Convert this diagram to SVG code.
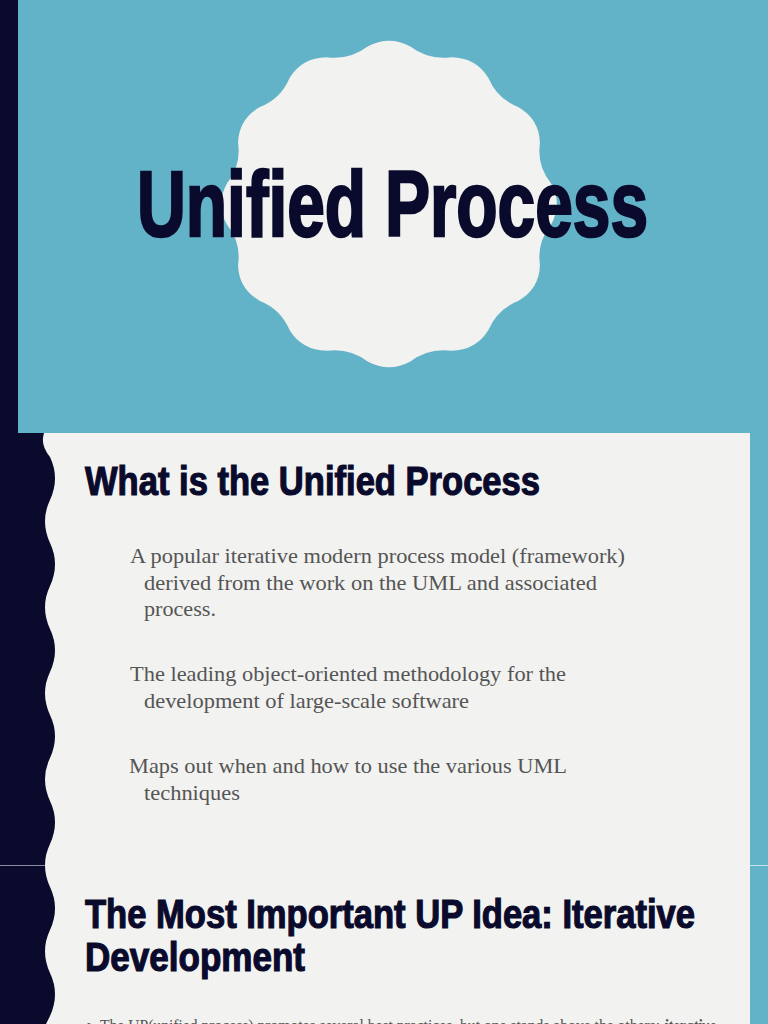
<svg xmlns="http://www.w3.org/2000/svg" width="768" height="1024" viewBox="0 0 768 1024">
<style>
.h{font-family:"Liberation Sans","DejaVu Sans",sans-serif;font-weight:bold;fill:#0a0a2c;stroke:#0a0a2c;stroke-width:1.2}
.b{font-family:"Liberation Serif","Times New Roman",serif;font-size:22px;fill:#555}
</style>
<rect x="0" y="0" width="768" height="433" fill="#63b3c8"/>
<rect x="0" y="0" width="18" height="433" fill="#0a0a2c"/>
<g id="badge" transform="translate(389,204) scale(1.1,1.07)">
<path fill="#f2f2f0" d="M147.2,-19.4 Q158,0 147.2,19.4 Q134.3,36 137.2,56.8 Q136.8,79 117.8,90.4 Q98.3,98.3 90.4,117.8 Q79,136.8 56.8,137.2 Q36,134.3 19.4,147.2 Q0,158 -19.4,147.2 Q-36,134.3 -56.8,137.2 Q-79,136.8 -90.4,117.8 Q-98.3,98.3 -117.8,90.4 Q-136.8,79 -137.2,56.8 Q-134.3,36 -147.2,19.4 Q-158,0 -147.2,-19.4 Q-134.3,-36 -137.2,-56.8 Q-136.8,-79 -117.8,-90.4 Q-98.3,-98.3 -90.4,-117.8 Q-79,-136.8 -56.8,-137.2 Q-36,-134.3 -19.4,-147.2 Q0,-158 19.4,-147.2 Q36,-134.3 56.8,-137.2 Q79,-136.8 90.4,-117.8 Q98.3,-98.3 117.8,-90.4 Q136.8,-79 137.2,-56.8 Q134.3,-36 147.2,-19.4 Z"/>
</g>
<text class="h" x="137" y="236" font-size="92" style="stroke-width:2.5" textLength="511" lengthAdjust="spacingAndGlyphs">Unified Process</text>
<rect x="0" y="433" width="768" height="591" fill="#f2f2f0"/>
<rect x="750" y="433" width="18" height="591" fill="#63b3c8"/>
<path fill="#0a0a2c" d="M0,433 H44 Q40,445 50,457 Q60,478 50,500 Q40,521 50,543 Q60,564 50,586 Q40,607 50,629 Q60,650 50,672 Q40,693 50,715 Q60,736 50,758 Q40,779 50,801 Q60,822 50,844 Q40,865 50,887 Q60,908 50,930 Q40,951 50,973 Q60,994 50,1016 Q47,1022 46,1024 H0 Z"/>
<line x1="0" y1="865.5" x2="45" y2="865.5" stroke="#8a8aa0" stroke-width="1"/>
<line x1="750" y1="865.5" x2="768" y2="865.5" stroke="#c8e2ea" stroke-width="1"/>
<text class="h" x="85" y="495" font-size="40" textLength="455" lengthAdjust="spacingAndGlyphs">What is the Unified Process</text>
<text class="b" x="130" y="563" textLength="495" lengthAdjust="spacingAndGlyphs">A popular iterative modern process model (framework)</text>
<text class="b" x="144" y="590" textLength="453" lengthAdjust="spacingAndGlyphs">derived from the work on the UML and associated</text>
<text class="b" x="144" y="616" textLength="72" lengthAdjust="spacingAndGlyphs">process.</text>
<text class="b" x="130" y="681" textLength="436" lengthAdjust="spacingAndGlyphs">The leading object-oriented methodology for the</text>
<text class="b" x="144" y="708" textLength="325" lengthAdjust="spacingAndGlyphs">development of large-scale software</text>
<text class="b" x="129" y="773" textLength="438" lengthAdjust="spacingAndGlyphs">Maps out when and how to use the various UML</text>
<text class="b" x="144" y="800" textLength="96" lengthAdjust="spacingAndGlyphs">techniques</text>
<text class="h" x="85" y="928" font-size="40" textLength="610" lengthAdjust="spacingAndGlyphs">The Most Important UP Idea: Iterative</text>
<text class="h" x="85" y="971" font-size="40" textLength="220" lengthAdjust="spacingAndGlyphs">Development</text>
<text class="b" x="86" y="1031" style="font-size:16px">•</text>
<text class="b" x="100" y="1031" style="font-size:16px" textLength="616" lengthAdjust="spacingAndGlyphs">The UP(unified process) promotes several best practices, but one stands above the others: <tspan font-style="italic" font-weight="bold">iterative</tspan></text>
</svg>
